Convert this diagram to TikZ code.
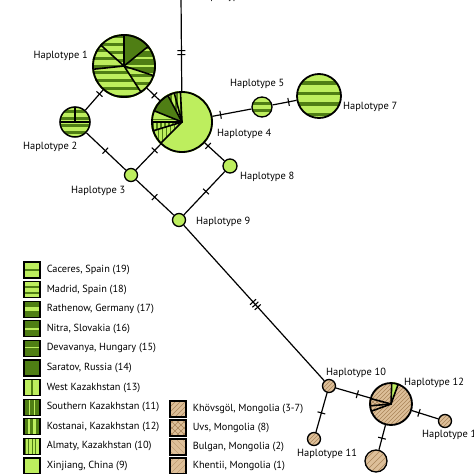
\documentclass[tikz,border=0pt]{standalone}
\usepackage{fontspec}
\setmainfont{PT Sans}
\usepackage{tikz}
\usetikzlibrary{positioning, backgrounds, decorations.markings}
\definecolor{HapLight}{HTML}{BDEE5E}
\definecolor{HapDark}{HTML}{4F7E14}
\definecolor{HapTan}{HTML}{DDBF99}
\definecolor{HatchBrown}{HTML}{A98459}
\tikzset{
  hapnode/.style={circle, draw=black, line width=1.8pt, inner sep=0pt},
  smallhap/.style={circle, draw=black, line width=1.3pt, inner sep=0pt, minimum size=13},
  haplabel/.style={font=\fontsize{10.4}{12}\selectfont, inner sep=0pt},
  legsquare/.style={rectangle, draw=black, line width=1.1pt, minimum size=16, inner sep=0pt},
  legtext/.style={font=\fontsize{10.3}{12}\selectfont, inner sep=0pt},
  link/.style={line width=1.2pt},
  sector/.style={line width=1.6pt, line cap=round},
  onetick/.style={postaction={decorate, decoration={markings, mark=at position #1 with {\draw[line width=1.1pt] (0,-4) -- (0,4);}}}},
  twotick/.style={postaction={decorate, decoration={markings, mark=at position #1 with {\draw[line width=1.1pt] (-2,-4) -- (-2,4) (2,-4) -- (2,4);}}}},
  threetick/.style={postaction={decorate, decoration={markings, mark=at position #1 with {\draw[line width=1.1pt] (-3.5,-4) -- (-3.5,4) (0,-4) -- (0,4) (3.5,-4) -- (3.5,4);}}}}
}
% fills, drawn in coordinates local to a node centre
\newcommand{\hapsolid}[1]{\fill[#1] (-40,-40) rectangle (40,40);}
\newcommand{\hapstripes}[5]{% base, stripe, period, width, offset
  \fill[#1] (-40,-40) rectangle (40,40);
  \foreach \k in {-8,...,8} \fill[#2] (-40,{\k*#3+#5}) rectangle (40,{\k*#3+#5+#4});}
\newcommand{\hapbars}[5]{%
  \fill[#1] (-40,-40) rectangle (40,40);
  \foreach \k in {-8,...,8} \fill[#2] ({\k*#3+#5},-40) rectangle ({\k*#3+#5+#4},40);}
\newcommand{\haphatch}[2]{% spacing, line width
  \fill[HapTan] (-40,-40) rectangle (40,40);
  \foreach \k in {-12,...,12} \draw[HatchBrown, line width=#2] ({\k*#1-40},40) -- ({\k*#1+40},-40);}
\newcommand{\haphatchNW}[2]{%
  \fill[HapTan] (-40,-40) rectangle (40,40);
  \foreach \k in {-12,...,12} \draw[HatchBrown, line width=#2] ({\k*#1-40},-40) -- ({\k*#1+40},40);}
\newcommand{\hapcross}[2]{\haphatch{#1}{#2}%
  \foreach \k in {-12,...,12} \draw[HatchBrown, line width=#2] ({\k*#1-40},-40) -- ({\k*#1+40},40);}
\newcommand{\hapdisc}[3]{%
  \begin{scope}
    \clip (#1.center) circle[radius=#2];
    \begin{scope}[shift={(#1.center)}] #3 \end{scope}
  \end{scope}}
\newcommand{\hapsector}[5]{%
  \begin{scope}
    \clip (#1.center) -- ++(#3:#2) arc[start angle=#3, end angle=#4, radius=#2] -- cycle;
    \begin{scope}[shift={(#1.center)}] #5 \end{scope}
  \end{scope}}
\newcommand{\legitem}[5]{% name, x, y, fill, text
  \begin{scope}
    \clip ({#2-8},{#3-8}) rectangle ({#2+8},{#3+8});
    \begin{scope}[shift={(#2,#3)}] #4 \end{scope}
  \end{scope}
  \node[legsquare] (#1) at (#2,#3) {};
  \node[legtext, right=6pt of #1] (#1txt) {#5};}

\begin{document}
\begin{tikzpicture}[x=1pt, y=-1pt]
  \useasboundingbox (0,0) rectangle (474,474);

  % Haplotypes
  \node[hapnode, minimum size=62] (h1) at (124,66) {};
  \node[hapnode, minimum size=30, line width=1.5pt] (h2) at (75,122) {};
  \node[smallhap] (h3) at (131,175) {};
  \node[hapnode, minimum size=60] (h4) at (182,122) {};
  \node[smallhap, minimum size=20] (h5) at (262,107) {};
  \node[hapnode, minimum size=44] (h7) at (319,96) {};
  \node[smallhap, minimum size=14] (h8) at (230,166) {};
  \node[smallhap] (h9) at (179,220) {};
  \node[smallhap] (h10) at (329,386) {};
  \node[smallhap] (h11) at (314,439) {};
  \node[hapnode, minimum size=42] (h12) at (391,404) {};
  \node[smallhap, minimum size=22] (h13) at (376,461) {};
  \node[smallhap] (h14) at (445,421) {};
  \coordinate (htop) at (181,-5);

  % Pie fills
  \begin{scope}[on background layer]
    \hapsector{h1}{32}{-90}{-39}{\hapsolid{HapDark}}
    \hapsector{h1}{32}{-39}{18}{\hapstripes{HapDark}{HapLight}{8}{2}{-1}}
    \hapsector{h1}{32}{18}{57}{\hapstripes{HapLight}{HapDark}{8}{3}{0}}
    \hapsector{h1}{32}{57}{174}{\hapstripes{HapLight}{HapDark}{8}{3}{-3}}
    \hapsector{h1}{32}{174}{222}{\hapstripes{HapLight}{HapDark}{8}{2.5}{-1}}
    \hapsector{h1}{32}{222}{270}{\hapstripes{HapLight}{HapDark}{8}{2.5}{1}}
    \hapdisc{h2}{15}{\hapstripes{HapLight}{HapDark}{7}{2.5}{-5}}
    \hapdisc{h4}{31}{\hapsolid{HapLight}}
    \hapsector{h4}{31}{-105}{-93}{\hapbars{HapDark}{HapLight}{4}{1.5}{0}}
    \hapsector{h4}{31}{-118}{-105}{\hapbars{HapDark}{HapLight}{5}{2.5}{0}}
    \hapsector{h4}{31}{-158}{-118}{\hapsolid{HapDark}}
    \hapsector{h4}{31}{-180}{-158}{\hapstripes{HapLight}{HapDark}{8}{1.2}{-3}}
    \hapsector{h4}{31}{-197}{-180}{\hapbars{HapDark}{HapLight}{4}{1.5}{0}}
    \hapsector{h4}{31}{-225}{-197}{\hapbars{HapLight}{HapDark}{4}{1.3}{0}}
    \hapdisc{h5}{10}{\hapstripes{HapLight}{HapDark}{7}{2.5}{-5}}
    \hapdisc{h7}{22}{\hapstripes{HapLight}{HapDark}{10.5}{3.5}{-15}}
    \hapdisc{h3}{6.5}{\hapsolid{HapLight}}
    \hapdisc{h8}{7}{\hapsolid{HapLight}}
    \hapdisc{h9}{6.5}{\hapsolid{HapLight}}
    \hapdisc{h10}{6.5}{\haphatch{4}{0.4pt}}
    \hapdisc{h11}{6.5}{\haphatch{4}{0.4pt}}
    \hapdisc{h14}{6.5}{\haphatch{4}{0.4pt}}
    \hapdisc{h13}{11}{\haphatch{6}{0.5pt}}
    \hapdisc{h12}{21}{\haphatch{4}{0.5pt}}
    \hapsector{h12}{22}{-88}{-70}{\hapsolid{HapLight}}
    \hapsector{h12}{22}{-185}{-165}{\hapcross{4}{0.5pt}}
  \end{scope}

  % Sector borders
  \foreach \a in {-90,-39,18,57,174,222} \draw[sector] (h1.center) -- ++(\a:31);
  \foreach \a in {-90,0,180} \draw[sector, line width=1.2pt] (h2.center) -- ++(\a:15);
  \foreach \a in {-93,-105,-118,-158,-180,-197,-225} \draw[sector] (h4.center) -- ++(\a:30);
  \foreach \a in {-88,-70,-165,-185,-200} \draw[sector] (h12.center) -- ++(\a:21);

  % Links
  \draw[link, twotick=0.6] (htop) -- (h4);
  \draw[link, onetick=0.58] (h1) -- (h4);
  \draw[link, onetick=0.8] (h2) -- (h1);
  \draw[link, onetick=0.48] (h2) -- (h3);
  \draw[link, onetick=0.24] (h4) -- (h3);
  \draw[link, onetick=0.21] (h4) -- (h5);
  \draw[link, onetick=0.67] (h5) -- (h7);
  \draw[link, onetick=0.17] (h4) -- (h8);
  \draw[link, onetick=0.49] (h3) -- (h9);
  \draw[link, onetick=0.46] (h8) -- (h9);
  \draw[link, threetick=0.51] (h9) -- (h10);
  \draw[link, onetick=0.63] (h10) -- (h12);
  \draw[link, onetick=0.51] (h10) -- (h11);
  \draw[link, onetick=0.27] (h12) -- (h14);
  \draw[link, onetick=0.53] (h12) -- (h13);

  % Labels
  \node[haplabel, anchor=base west] (l6) at (198,-1) {Haplotype 6};
  \node[haplabel, anchor=mid east] (l1) at (88,56) {Haplotype 1};
  \node[haplabel, anchor=mid west] (l2) at (23,147) {Haplotype 2};
  \node[haplabel, anchor=mid west] (l3) at (71,191) {Haplotype 3};
  \node[haplabel, anchor=mid west] (l4) at (217,134) {Haplotype 4};
  \node[haplabel, anchor=mid west] (l5) at (230,84) {Haplotype 5};
  \node[haplabel, anchor=mid west] (l7) at (343,107) {Haplotype 7};
  \node[haplabel, anchor=mid west] (l8) at (240,177) {Haplotype 8};
  \node[haplabel, anchor=mid west] (l9) at (196,222) {Haplotype 9};
  \node[haplabel, anchor=mid west] (l10) at (326,373) {Haplotype 10};
  \node[haplabel, anchor=mid west] (l12) at (404,383) {Haplotype 12};
  \node[haplabel, anchor=mid west] (l14) at (422,435) {Haplotype 14};
  \node[haplabel, anchor=mid west] (l11) at (297,454) {Haplotype 11};

  % Legend
  \legitem{caceres}{32}{270}{\hapstripes{HapLight}{HapDark}{40}{1.5}{-0.75}}{Caceres, Spain (19)}
  \legitem{madrid}{32}{289.6}{\hapstripes{HapLight}{HapDark}{6}{2.5}{-4}}{Madrid, Spain (18)}
  \legitem{rathenow}{32}{309.2}{\hapstripes{HapDark}{HapLight}{40}{4}{-2}}{Rathenow, Germany (17)}
  \legitem{nitra}{32}{328.8}{\hapstripes{HapDark}{HapLight}{40}{2}{-1}}{Nitra, Slovakia (16)}
  \legitem{devavanya}{32}{348.4}{\hapstripes{HapDark}{HapLight}{40}{1}{-1}}{Devavanya, Hungary (15)}
  \legitem{saratov}{32}{368}{\hapsolid{HapDark}}{Saratov, Russia (14)}
  \legitem{westkaz}{32}{387.6}{\hapbars{HapLight}{HapDark}{40}{1.5}{-1}}{West Kazakhstan (13)}
  \legitem{southkaz}{32}{407.2}{\hapbars{HapDark}{HapLight}{40}{1.5}{-3.5}\fill[HapLight] (1.5,-8) rectangle (3,8);}{Southern Kazakhstan (11)}
  \legitem{kostanai}{32}{426.8}{\hapbars{HapDark}{HapLight}{40}{2.5}{-4.5}\fill[HapLight] (1,-8) rectangle (3.5,8);}{Kostanai, Kazakhstan (12)}
  \legitem{almaty}{32}{446.4}{\hapbars{HapLight}{HapDark}{3.5}{1.2}{-4}}{Almaty, Kazakhstan (10)}
  \legitem{xinjiang}{32}{466}{\hapsolid{HapLight}}{Xinjiang, China (9)}

  \legitem{khovsgol}{178}{409}{\haphatch{5}{0.6pt}}{Khövsgöl, Mongolia (3-7)}
  \legitem{uvs}{178}{428}{\hapcross{6}{0.5pt}}{Uvs, Mongolia (8)}
  \legitem{bulgan}{178}{447}{\haphatchNW{6}{0.3pt}}{Bulgan, Mongolia (2)}
  \legitem{khentii}{178}{466}{\haphatch{6}{0.3pt}}{Khentii, Mongolia (1)}
\end{tikzpicture}
\end{document}
